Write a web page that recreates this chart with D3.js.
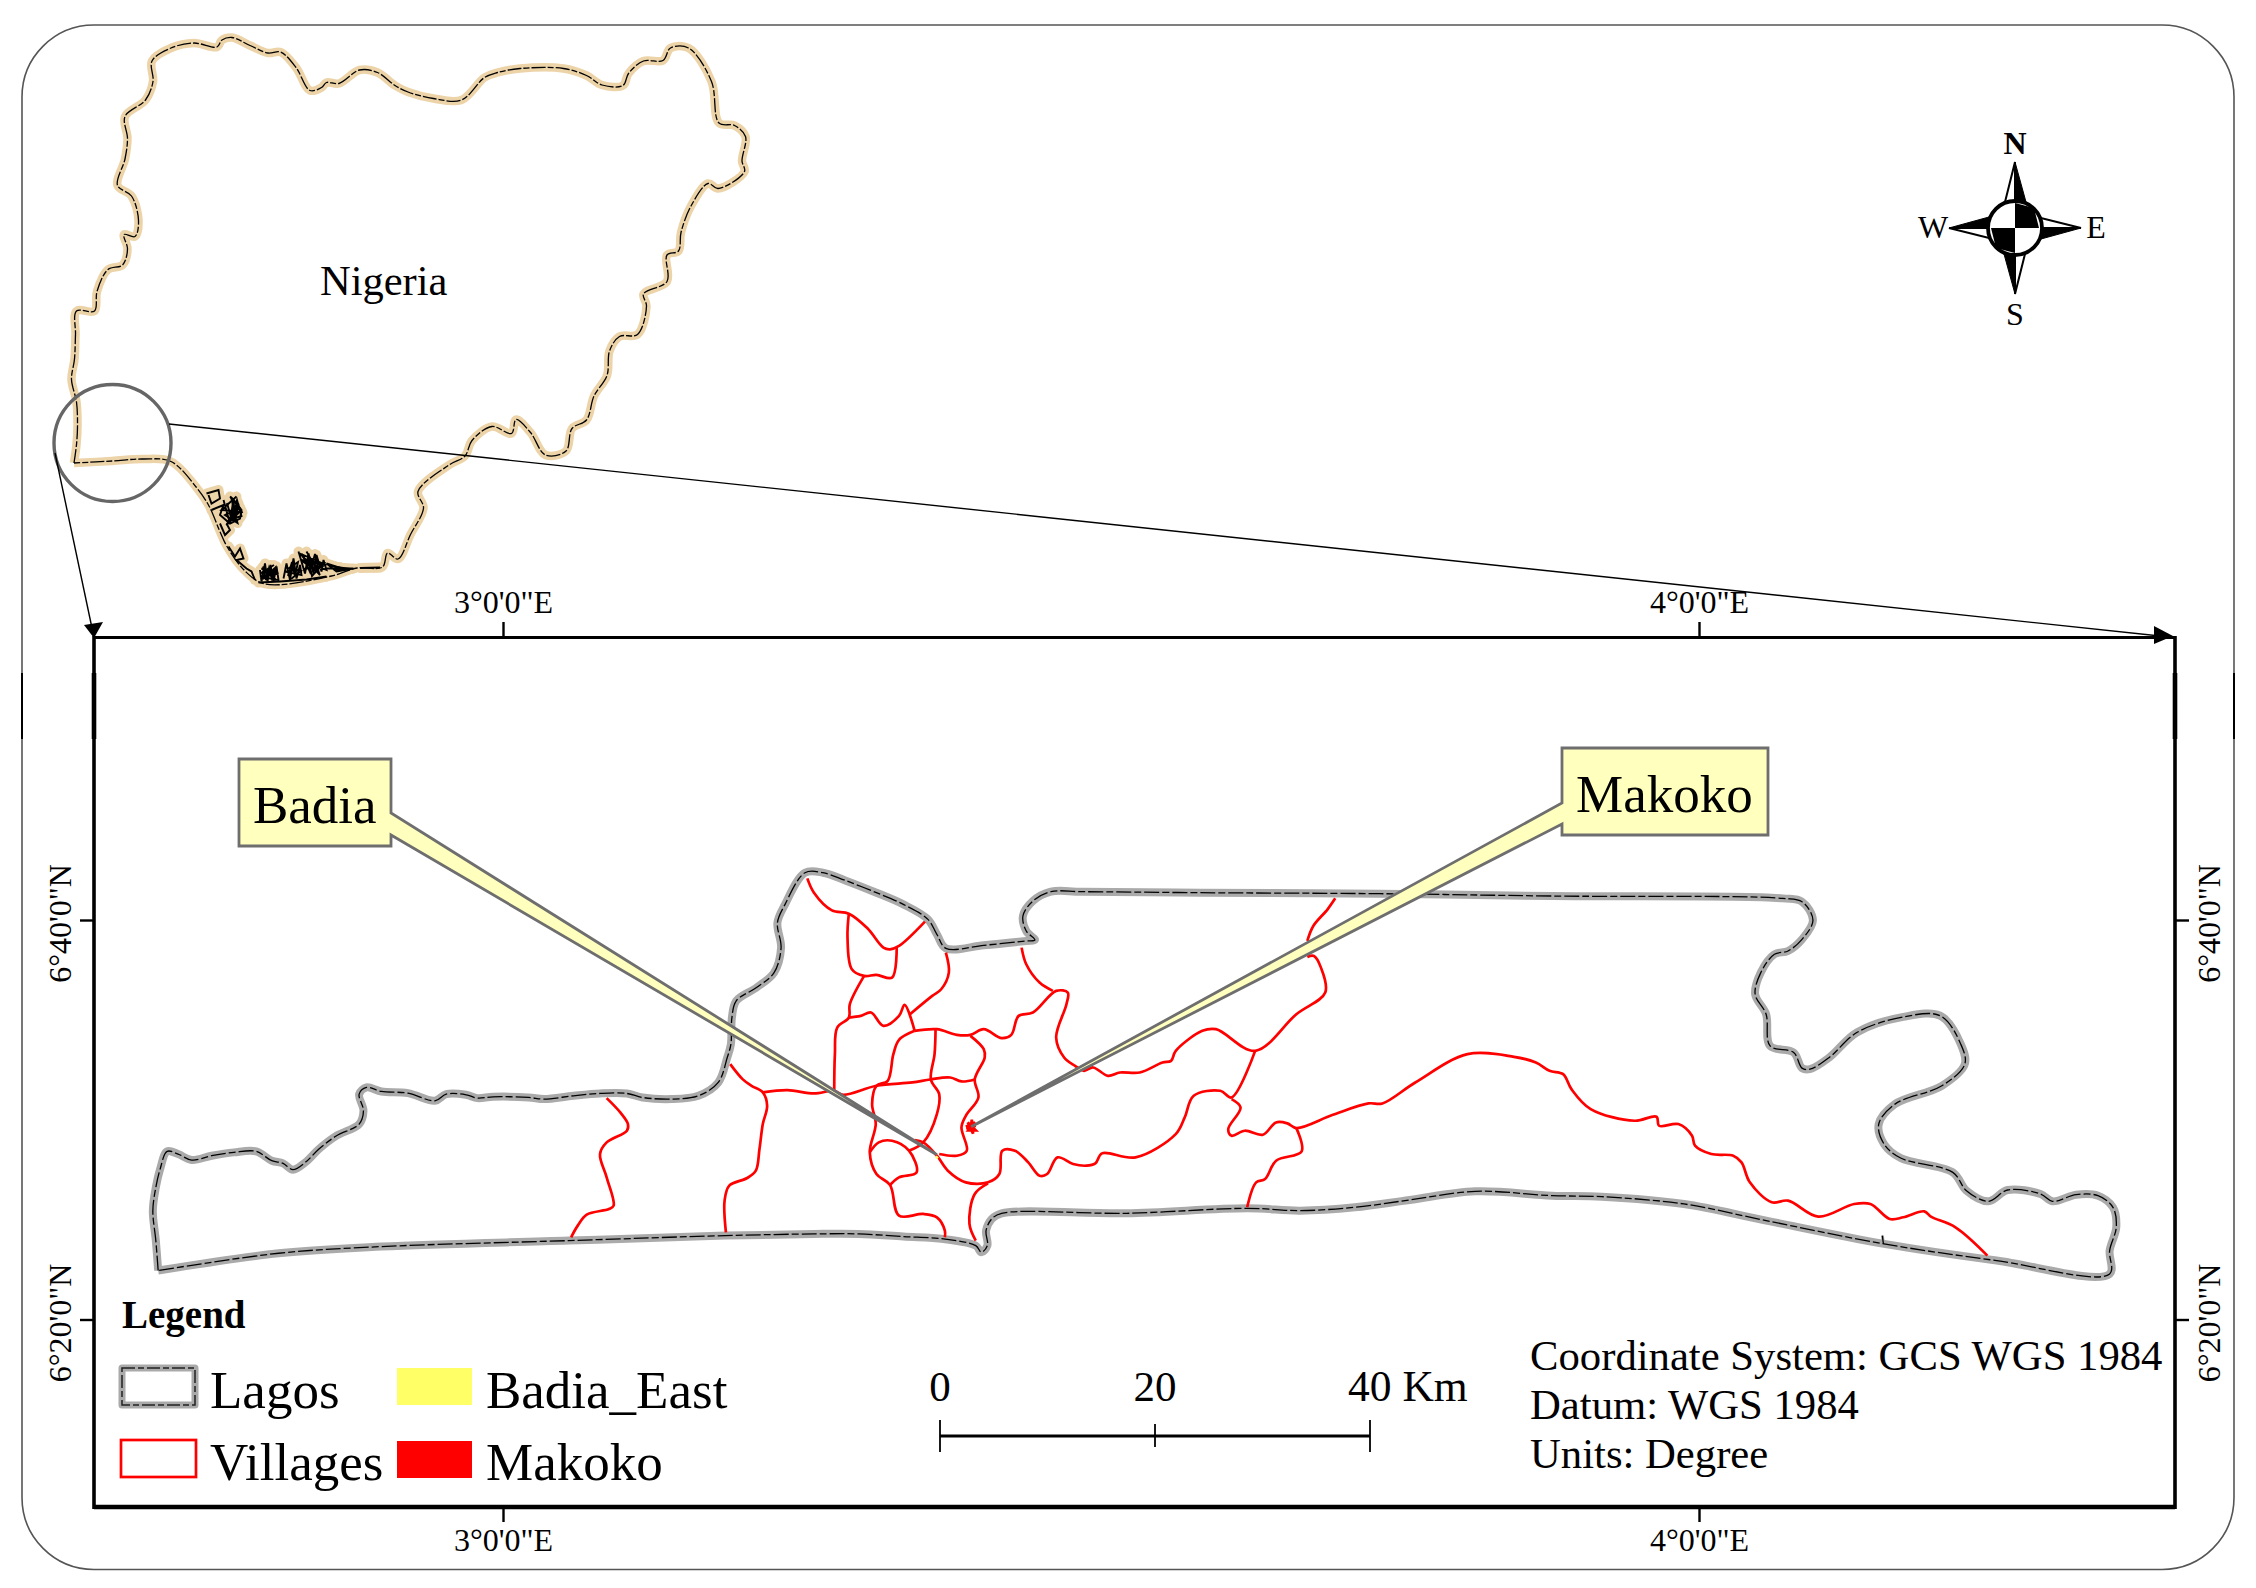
<!DOCTYPE html>
<html>
<head>
<meta charset="utf-8">
<script src="https://cdn.jsdelivr.net/npm/d3@7"></script>
<style>
  html, body { margin: 0; padding: 0; background: #fff; }
  text { font-family: "Liberation Serif", serif; fill: #000; }
</style>
</head>
<body>
<svg id="map" width="2256" height="1588"></svg>
<script>
// Lagos map values: [arc-seconds east of 3°E, arc-seconds north of 6°20'N]
var lagosBoundary = [
  [-1041,147],[-1048,237],[-1057,327],[-1048,397],[-1035,452],[-1014,505],[-981,497],[-940,479],[-880,492],[-813,502],
  [-746,505],[-699,477],[-665,469],[-635,450],[-598,472],[-557,512],[-504,552],[-436,587],[-423,627],[-436,677],
  [-414,697],[-369,685],[-289,680],[-208,657],[-174,677],[-114,675],[-80,665],[-33,669],[74,667],[121,662],
  [209,672],[289,679],[370,679],[417,667],[504,662],[585,672],[645,712],[672,787],[683,827],[686,907],
  [699,957],[760,997],[813,1042],[834,1117],[823,1192],[846,1247],[906,1342],[960,1342],[1027,1319],[1121,1282],
  [1202,1247],[1276,1202],[1303,1157],[1330,1115],[1444,1124],[1572,1137],[1598,1140],[1572,1167],[1562,1212],[1592,1257],
  [1646,1285],[1740,1285],[2096,1282],[2637,1279],[3155,1272],[3849,1265],[3907,1255],[3940,1199],[3907,1142],[3865,1107],
  [3824,1097],[3783,1042],[3766,977],[3799,917],[3811,822],[3882,802],[3907,755],[3931,752],[3989,787],[4072,862],
  [4212,909],[4324,912],[4385,827],[4397,767],[4328,702],[4187,647],[4138,587],[4154,527],[4204,485],[4361,442],
  [4402,387],[4468,355],[4526,389],[4625,377],[4661,355],[4732,375],[4798,372],[4843,337],[4853,277],[4833,207],
  [4833,137],[4493,177],[4154,227],[3799,297],[3552,347],[3304,369],[3155,372],[2924,385],
  [2726,359],[2561,337],[2396,327],[2237,334],[1874,319],[1498,319],[1468,302],[1451,267],[1455,222],[1437,202],
  [1420,222],[1323,242],[1202,249],[1068,257],[933,257],[666,252],[195,237],[-369,219],[-678,199],[-1041,147]
];
var lagosSpur = [[4152,227],[4149,252]];

var villageLines = [
  [[309,665],[350,622],[373,587],[370,567],[309,532],[289,497],[309,427],[330,342],[316,332],[249,315],[222,282],[202,247]],
  [[681,767],[718,722],[745,702],[779,682],[792,642],[779,587],[769,512],[758,447],[732,425],[678,402],[664,357],[668,262]],
  [[779,682],[853,689],[933,679],[994,687],[1021,675],[1121,702],[1229,712],[1283,721],[1343,727],[1377,715],[1417,721]],
  [[913,1325],[933,1282],[987,1229],[1038,1219],[1094,1175],[1142,1117],[1162,1112],[1189,1122],[1267,1195]],
  [[1038,1219],[1034,1147],[1047,1052],[1084,1032],[1121,1035],[1168,1027],[1182,1117]],
  [[1084,1032],[1041,947],[1038,907],[1003,877],[996,797],[994,687]],
  [[1038,907],[1074,912],[1105,922],[1142,882],[1189,912],[1206,945],[1236,867]],
  [[1330,1102],[1339,1042],[1316,992],[1289,972],[1222,917]],
  [[1236,867],[1303,872],[1363,855],[1404,855],[1444,872],[1498,845],[1527,855],[1549,912],[1592,922],[1662,987],[1697,982],
   [1693,947],[1662,847],[1686,787],[1719,762],[1746,747],[1773,757],[1818,732],[1854,742],[1914,742],[1982,772],[2008,777],
   [2022,807],[2102,867],[2143,872],[2261,807],[2385,917],[2472,982],[2459,1057],[2438,1092],[2418,1089]],
  [[2418,1137],[2436,1182],[2479,1232],[2502,1265]],
  [[1558,1117],[1572,1067],[1612,1012],[1652,987]],
  [[1236,867],[1189,840],[1172,797],[1155,717],[1121,702],[1108,647],[1119,587],[1101,502],[1121,437],[1162,404],[1189,312],
   [1262,317],[1303,307],[1327,267],[1327,247]],
  [[1299,872],[1296,797],[1285,721],[1310,677],[1303,617],[1262,532],[1219,507]],
  [[1101,502],[1128,532],[1168,537],[1219,507],[1242,442],[1189,427],[1162,404]],
  [[1404,852],[1444,812],[1447,787],[1417,721],[1428,667],[1390,612],[1377,577],[1393,507],[1363,492],[1310,497]],
  [[1236,539],[1262,532],[1303,492],[1336,447],[1390,412],[1457,412],[1491,437],[1500,507],[1538,507],[1578,472],[1612,432],
   [1635,437],[1666,487],[1713,467],[1753,462],[1780,469],[1800,499],[1901,487],[2022,557],[2049,607],[2076,672],[2156,687],
   [2190,667],[2261,807]],
  [[2190,662],[2217,637],[2180,572],[2190,552],[2230,567],[2284,555],[2324,592],[2358,589],[2385,575],[2495,615],[2602,649],
   [2644,649],[2743,712],[2900,797],[3040,789],[3106,772],[3147,747],[3188,737],[3213,692],[3271,632],[3403,597],[3469,609],
   [3477,582],[3535,587],[3576,552],[3585,522],[3634,497],[3700,492],[3725,472],[3750,412],[3816,352],[3865,357],[3956,309],
   [4064,347],[4113,347],[4171,302],[4212,307],[4275,325],[4295,309],[4369,277],[4465,192]],
  [[2385,575],[2401,505],[2324,477],[2291,422],[2264,412],[2237,337]],
  [[1457,409],[1417,377],[1401,287],[1420,237]]
];

var makokoPatch = [[1390,579],[1418,592],[1398,568],[1420,568],[1396,592],[1412,558],[1408,600],[1406,579],[1392,572],[1420,582]];
var badiaPatch = [[1300,490],[1306,484]];
var badiaTarget = [1303,495];
var makokoTarget = [1406,579];

// Nigeria inset values: [km east, km north] of the inset's south-west corner
var nigeriaBoundary = [
  [8,240],[13,277],[15,313],[13,362],[3,407],[9,448],[11,497],[13,544],[49,544],[54,583],[76,627],[105,636],[115,668],[108,697],
  [130,693],[137,725],[123,774],[95,795],[110,848],[115,889],[110,933],[151,966],[166,1003],[164,1044],[202,1070],[248,1080],
  [294,1072],[304,1086],[324,1091],[360,1075],[396,1060],[421,1062],[452,1031],[480,985],[503,991],[513,1001],[538,999],
  [579,1026],[615,1021],[650,995],[676,982],[727,969],[783,966],[829,1011],[855,1021],[900,1029],[987,1029],[1033,1015],
  [1064,996],[1106,995],[1117,1019],[1147,1044],[1186,1045],[1201,1070],[1237,1070],[1283,1003],[1298,920],[1329,915],
  [1351,893],[1344,844],[1349,823],[1296,789],[1276,799],[1242,754],[1222,701],[1217,664],[1194,656],[1194,603],[1147,578],
  [1153,554],[1135,497],[1099,493],[1079,464],[1074,415],[1048,374],[1033,326],[1004,309],[992,264],[951,256],[921,301],
  [892,327],[883,299],[844,313],[804,285],[790,254],[758,236],[696,183],[707,150],[681,97],[656,48],[635,60],[625,32],
  [574,30],[523,14],[390,-2],[350,24],[314,73],[299,105],[278,154],[253,191],[202,243],[146,248],[84,244],[8,240]
];

var nigeriaCreeks = [
  [[273,179],[297,186],[300,169],[283,159],[277,176]],
  [[283,146],[307,156],[300,136],[320,119],[340,129],[343,146],[330,163],[320,173]],
  [[307,166],[320,119],[327,169],[330,123],[337,159],[313,116],[340,143],[303,146],[333,173]],
  [[314,160],[324,124],[334,166],[343,134],[318,126],[340,152],[310,136],[335,120],[322,172],[345,140]],
  [[300,119],[310,96],[320,106],[313,119]],
  [[317,73],[330,53],[340,69],[347,49],[333,46],[353,29],[363,23],[370,6]],
  [[380,26],[383,3],[390,39],[395,3],[401,36],[407,3],[413,33],[417,6],[380,13],[417,19],[383,29],[413,6]],
  [[386,33],[392,6],[398,30],[404,8],[410,30],[386,8],[414,24],[382,20],[408,36]],
  [[427,9],[433,39],[440,6],[447,49],[453,9],[460,36],[463,16],[430,23],[457,26]],
  [[436,14],[444,42],[450,14],[456,42],[438,30],[462,24],[442,8]],
  [[457,63],[470,19],[477,59],[487,19],[493,56],[503,23],[507,46],[513,26],[463,46],[513,36],[460,59],[500,16],[473,63]],
  [[464,58],[480,22],[490,58],[497,24],[470,40],[508,40],[484,14],[476,50],[504,34],[468,28]],
  [[513,29],[567,29],[533,23],[513,39],[553,26]],
  [[520,34],[560,28],[528,26],[540,32]],
  [[377,1],[420,3],[473,7],[513,13]],
  [[580,30],[620,31]]
];

var lonTicks = [0, 3600];
var lonTickLabels = ["3°0'0\"E", "4°0'0\"E"];
var latTicks = [1200, 0];
var latTickLabels = ["6°40'0\"N", "6°20'0\"N"];
var scaleKm = [0, 20, 40];
var scaleLabels = ["0", "20", "40 Km"];
var coordinateNotes = ["Coordinate System: GCS WGS 1984", "Datum: WGS 1984", "Units: Degree"];

var svg = d3.select("#map");
var serif = "'Liberation Serif', serif";

// Scales
var xGeo = d3.scaleLinear().domain([0, 3600]).range([504, 1700]);
var yGeo = d3.scaleLinear().domain([0, 1200]).range([1319.5, 920]);
var xInset = d3.scaleLinear().domain([0, 1356]).range([70, 748]);
var yInset = d3.scaleLinear().domain([0, 1088]).range([583, 39]);
var xBar = d3.scaleLinear().domain([0, 40]).range([940, 1370]);

var geoLine = d3.line().x(d => xGeo(d[0])).y(d => yGeo(d[1])).curve(d3.curveCatmullRom.alpha(0.5));
var geoStraight = d3.line().x(d => xGeo(d[0])).y(d => yGeo(d[1]));
var insetLine = d3.line().x(d => xInset(d[0])).y(d => yInset(d[1])).curve(d3.curveCatmullRom.alpha(0.5));
var insetStraight = d3.line().x(d => xInset(d[0])).y(d => yInset(d[1]));

// Outer rounded border
svg.append("rect").attr("x", 22).attr("y", 25).attr("width", 2212).attr("height", 1544.5).attr("rx", 72)
  .attr("fill", "#fff").attr("stroke", "#555").attr("stroke-width", 1.6);
[22, 2234].forEach(x => {
  svg.append("line").attr("x1", x).attr("x2", x).attr("y1", 673).attr("y2", 739)
    .attr("stroke", "#000").attr("stroke-width", 2);
});

// Nigeria inset
svg.append("path").attr("d", insetLine(nigeriaBoundary)).attr("fill", "none")
  .attr("stroke", "#ecd3a8").attr("stroke-width", 8.5).attr("stroke-linejoin", "round");
svg.selectAll(".creekHalo").data(nigeriaCreeks).join("path").attr("class", "creekHalo")
  .attr("d", insetStraight).attr("fill", "none").attr("stroke", "#ecd3a8").attr("stroke-width", 10)
  .attr("stroke-linejoin", "round").attr("stroke-linecap", "round");
svg.append("path").attr("d", insetLine(nigeriaBoundary)).attr("fill", "none")
  .attr("stroke", "#000").attr("stroke-width", 1.3).attr("stroke-dasharray", "14 2 6 2");
svg.selectAll(".creek").data(nigeriaCreeks).join("path").attr("class", "creek")
  .attr("d", insetStraight).attr("fill", "none").attr("stroke", "#000").attr("stroke-width", 1.9);
svg.append("text").attr("x", 320).attr("y", 295).attr("font-size", 42.5).text("Nigeria");

// Zoom circle and the two leader arrows
svg.append("circle").attr("cx", 112.5).attr("cy", 443).attr("r", 58.5)
  .attr("fill", "none").attr("stroke", "#666").attr("stroke-width", 3.4);
svg.append("line").attr("x1", 55).attr("y1", 453).attr("x2", 92).attr("y2", 628).attr("stroke", "#000").attr("stroke-width", 1.4);
svg.append("line").attr("x1", 169).attr("y1", 424).attr("x2", 2160).attr("y2", 636).attr("stroke", "#000").attr("stroke-width", 1.4);

// Lagos
[lagosBoundary, lagosSpur].forEach(part => {
  svg.append("path").attr("d", geoLine(part)).attr("fill", "none")
    .attr("stroke", "#aaa").attr("stroke-width", part == lagosSpur ? 3 : 8).attr("stroke-linejoin", "round");
});
svg.append("path").attr("d", geoLine(lagosBoundary)).attr("fill", "none")
  .attr("stroke", "#000").attr("stroke-width", 1.3).attr("stroke-dasharray", "15 3 7 3");
svg.append("path").attr("d", geoLine(lagosSpur)).attr("fill", "none").attr("stroke", "#000").attr("stroke-width", 1.3);
svg.selectAll(".village").data(villageLines).join("path").attr("class", "village")
  .attr("d", geoLine).attr("fill", "none").attr("stroke", "#f00").attr("stroke-width", 2.7)
  .attr("stroke-linejoin", "round");
svg.append("path").attr("d", geoStraight(makokoPatch)).attr("fill", "none").attr("stroke", "#f00").attr("stroke-width", 2.8);
svg.append("path").attr("d", geoStraight(badiaPatch)).attr("fill", "none").attr("stroke", "#ffff66").attr("stroke-width", 2.4);

// Callouts
function callout(label, left, top, right, bottom, side, y1, y2, target, textX, textY) {
  var edge = side == "right" ? right : left;
  var tx = xGeo(target[0]), ty = yGeo(target[1]);
  var pts = side == "right"
    ? [[left,top],[right,top],[edge,y1],[tx,ty],[edge,y2],[right,bottom],[left,bottom]]
    : [[left,top],[right,top],[right,bottom],[left,bottom],[edge,y2],[tx,ty],[edge,y1]];
  svg.append("path").attr("d", d3.line()(pts) + "Z").attr("fill", "#ffffbe")
    .attr("stroke", "#6e6e6e").attr("stroke-width", 2.8).attr("stroke-linejoin", "miter");
  svg.append("text").attr("x", textX).attr("y", textY).attr("font-size", 53).text(label);
}
callout("Badia", 239, 759, 391, 846, "right", 813, 835, badiaTarget, 253, 823);
callout("Makoko", 1562, 748, 1768, 835, "left", 803, 824, makokoTarget, 1576, 812);

// Map frame, one side at a time because the line weights differ
svg.append("line").attr("x1", 94).attr("x2", 2175).attr("y1", 637.5).attr("y2", 637.5).attr("stroke", "#000").attr("stroke-width", 3.2);
svg.append("line").attr("x1", 94).attr("x2", 2175).attr("y1", 1507).attr("y2", 1507).attr("stroke", "#000").attr("stroke-width", 4.6);
[94, 2175].forEach(x => {
  svg.append("line").attr("x1", x).attr("x2", x).attr("y1", 636).attr("y2", 1509).attr("stroke", "#000").attr("stroke-width", 3.6);
  svg.append("line").attr("x1", x).attr("x2", x).attr("y1", 673).attr("y2", 739).attr("stroke", "#000").attr("stroke-width", 4.6);
});
svg.append("path").attr("d", "M84,625L103,622L94,638Z").attr("fill", "#000");
svg.append("path").attr("d", "M2154,626L2173,636L2154,644Z").attr("fill", "#000");

// Graticule axes
function lonLabel(d) { return lonTickLabels[lonTicks.indexOf(d)]; }
function latLabel(d) { return latTickLabels[latTicks.indexOf(d)]; }
function styleAxis(g) {
  g.select(".domain").remove();
  g.selectAll(".tick line").attr("stroke", "#000").attr("stroke-width", 2.4);
  g.selectAll(".tick text").attr("font-size", 32).attr("font-family", serif).attr("fill", "#000");
}
svg.append("g").attr("transform", "translate(-1,637)")
  .call(d3.axisTop(xGeo).tickValues(lonTicks).tickFormat(lonLabel).tickSize(15).tickPadding(9)).call(styleAxis);
svg.append("g").attr("transform", "translate(-1,1507)")
  .call(d3.axisBottom(xGeo).tickValues(lonTicks).tickFormat(lonLabel).tickSize(15).tickPadding(6)).call(styleAxis);
svg.append("g").attr("transform", "translate(94,0)")
  .call(d3.axisLeft(yGeo).tickValues(latTicks).tickFormat(latLabel).tickSize(14)).call(styleAxis)
  .selectAll(".tick text").attr("text-anchor", "middle").attr("dy", 0)
  .attr("transform", "translate(-23,3) rotate(-90)").attr("x", 0).attr("y", 0);
svg.append("g").attr("transform", "translate(2175,0)")
  .call(d3.axisRight(yGeo).tickValues(latTicks).tickFormat(latLabel).tickSize(14)).call(styleAxis)
  .selectAll(".tick text").attr("text-anchor", "middle").attr("dy", 0)
  .attr("transform", "translate(45,3) rotate(-90)").attr("x", 0).attr("y", 0);

// Legend
svg.append("text").attr("x", 122).attr("y", 1328).attr("font-size", 39).attr("font-weight", "bold").text("Legend");
svg.append("rect").attr("x", 122).attr("y", 1368).attr("width", 73).attr("height", 37).attr("fill", "#fff")
  .attr("stroke", "#aaa").attr("stroke-width", 7).attr("stroke-linejoin", "round");
svg.append("rect").attr("x", 122).attr("y", 1368).attr("width", 73).attr("height", 37).attr("fill", "none")
  .attr("stroke", "#222").attr("stroke-width", 1.5).attr("stroke-dasharray", "13 3 6 3");
svg.append("rect").attr("x", 121).attr("y", 1440).attr("width", 75).attr("height", 37).attr("fill", "#fff")
  .attr("stroke", "#f00").attr("stroke-width", 2.7);
svg.append("rect").attr("x", 397).attr("y", 1368).attr("width", 75).attr("height", 37).attr("fill", "#ffff66");
svg.append("rect").attr("x", 397).attr("y", 1441).attr("width", 75).attr("height", 37).attr("fill", "#f00");
svg.append("text").attr("x", 210).attr("y", 1407.5).attr("font-size", 53).text("Lagos");
svg.append("text").attr("x", 210).attr("y", 1479.5).attr("font-size", 53).text("Villages");
svg.append("text").attr("x", 486).attr("y", 1407.5).attr("font-size", 53).text("Badia_East");
svg.append("text").attr("x", 486).attr("y", 1479.5).attr("font-size", 53).text("Makoko");

// Scale bar
svg.append("line").attr("x1", xBar(0)).attr("x2", xBar(40)).attr("y1", 1436).attr("y2", 1436).attr("stroke", "#000").attr("stroke-width", 3);
scaleKm.forEach((km, i) => {
  var isMid = km == 20;
  svg.append("line").attr("x1", xBar(km)).attr("x2", xBar(km))
    .attr("y1", isMid ? 1424 : 1420).attr("y2", isMid ? 1447 : 1452)
    .attr("stroke", "#000").attr("stroke-width", 1.8);
  svg.append("text").attr("x", km == 40 ? xBar(km) - 22 : xBar(km)).attr("y", 1400.5).attr("font-size", km == 40 ? 43.5 : 43)
    .attr("text-anchor", km == 40 ? "start" : "middle").text(scaleLabels[i]);
});

// Coordinate notes
coordinateNotes.forEach((note, i) => {
  svg.append("text").attr("x", 1530).attr("y", 1369.5 + i * 49).attr("font-size", 42.7).text(note);
});

// North arrow
var compass = svg.append("g").attr("transform", "translate(2015,228)");
var blade = "#000";
[0, 90, 180, 270].forEach(angle => {
  var g = compass.append("g").attr("transform", "rotate(" + angle + ")");
  g.append("path").attr("d", "M0,-66L-10,-26L0,-26Z").attr("fill", "#fff").attr("stroke", blade).attr("stroke-width", 2);
  g.append("path").attr("d", "M0,-66L11,-26L0,-26Z").attr("fill", blade).attr("stroke", blade).attr("stroke-width", 1);
});
compass.append("circle").attr("r", 27).attr("fill", "#fff").attr("stroke", "#000").attr("stroke-width", 3.8);
compass.append("path").attr("d", "M0,0L0,-25L19,-20L24,0Z").attr("fill", "#000");
compass.append("path").attr("d", "M0,0L0,25L-19,20L-24,0Z").attr("fill", "#000");
svg.append("text").attr("x", 2015).attr("y", 154).attr("font-size", 32).attr("font-weight", "bold").attr("text-anchor", "middle").text("N");
svg.append("text").attr("x", 2015).attr("y", 325).attr("font-size", 32).attr("text-anchor", "middle").text("S");
svg.append("text").attr("x", 1933).attr("y", 238).attr("font-size", 32).attr("text-anchor", "middle").text("W");
svg.append("text").attr("x", 2096).attr("y", 238).attr("font-size", 32).attr("text-anchor", "middle").text("E");
</script>
</body>
</html>
